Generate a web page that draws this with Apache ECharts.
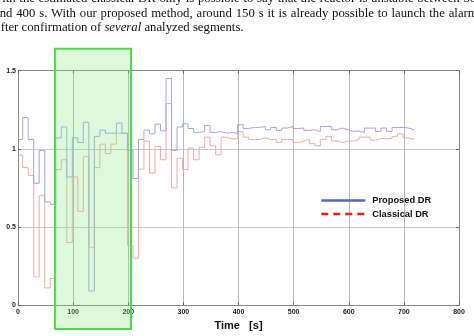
<!DOCTYPE html>
<html><head><meta charset="utf-8">
<script src="https://cdn.jsdelivr.net/npm/echarts@6/dist/echarts.min.js"></script>
<style>
html,body{margin:0;padding:0;background:#fff;overflow:hidden}
#wrap{position:relative;width:474px;height:336px;overflow:hidden}
#c{position:absolute;left:0;top:0;width:474px;height:336px}
.t{position:absolute;white-space:nowrap;font-family:'Liberation Serif','Times New Roman',serif;font-size:12.75px;color:#111;line-height:14px;z-index:5}
</style>
</head><body><div id="wrap"><div id="c"></div>
<div class="t" id="t1" style="left:-7px;top:-9px;word-spacing:0.5px"></div>
<div class="t" id="t2" style="left:-6px;top:6px;word-spacing:0.65px"></div>
<div class="t" id="t3" style="left:-5px;top:20px"></div>
</div>
<script>
// Segment start times [s] (last entry = end of final segment)
const segTimes = [2, 8.5, 18.5, 28.5, 38.5, 48.5, 58.5, 68.5, 78.5, 88.5, 98.5, 108.5, 118.5, 128.5, 138.5, 148.5,
  158.5, 168.5, 178.5, 188.5, 198.5, 208.5, 218.5, 228.5, 238.5, 248.5, 258.5, 268.5, 278.5, 288.5, 298.5,
  308.5, 318.5, 328.5, 338.5, 348.5, 358.5, 368.5, 378.5, 388.5, 398.5, 408.5, 418.5, 428.5, 438.5, 448.5,
  458.5, 468.5, 478.5, 488.5, 498.5, 508.5, 518.5, 528.5, 538.5, 548.5, 558.5, 568.5, 578.5, 588.5, 598.5,
  608.5, 618.5, 628.5, 638.5, 648.5, 658.5, 668.5, 678.5, 688.5, 698.5, 708.5, 719];

const proposedDR = [1.06, 1.20, 1.06, 0.78, 0.99, 0.66, 0.645, 1.07, 1.14, 0.82, 1.07, 1.04, 1.17, 0.09, 1.08, 1.12,
  1.10, 1.10, 1.165, 1.10, 0.99, 0.81, 1.06, 1.12, 1.096, 1.158, 1.115, 1.45, 0.99, 1.14, 1.16,
  1.13, 1.105, 1.11, 1.15, 1.105, 1.11, 1.10, 1.105, 1.10, 1.154, 1.13, 1.137, 1.137, 1.143, 1.122,
  1.137, 1.118, 1.133, 1.143, 1.13, 1.133, 1.118, 1.122, 1.111, 1.143, 1.143, 1.122, 1.133, 1.122, 1.111,
  1.115, 1.105, 1.133, 1.133, 1.111, 1.133, 1.111, 1.137, 1.137, 1.133, 1.122];

const classicalDR = [0.96, 0.88, 0.83, 0.18, 0.70, 0.11, 0.17, 0.867, 0.93, 0.40, 0.82, 0.60, 0.95, 0.37, 0.88, 1.03,
  0.97, 1.03, 1.10, 1.10, 0.38, 0.30, 0.87, 1.05, 0.845, 1.015, 0.93, 1.29, 0.75, 0.94, 0.867,
  1.005, 0.93, 1.01, 1.075, 1.02, 0.962, 1.075, 1.064, 1.064, 1.11, 1.075, 1.06, 1.06, 1.07, 1.06,
  1.06, 1.04, 1.06, 1.06, 1.04, 1.05, 1.06, 1.033, 1.02, 1.06, 1.08, 1.05, 1.04, 1.05, 1.05,
  1.06, 1.075, 1.075, 1.055, 1.065, 1.065, 1.067, 1.08, 1.096, 1.07, 1.06];

const xTicks = [0, 100, 200, 300, 400, 500, 600, 700, 800];
const yTicks = [0, 0.5, 1, 1.5];
const highlightRange = [67, 205];
const seriesNames = ['Proposed DR', 'Classical DR'];
const textLines = [
  'with the estimated classical DR only is possible to say that the reactor is unstable between 300',
  'and 400 s. With our proposed method, around 150 s it is already possible to launch the alarm',
  ['after confirmation of ', 'several', ' analyzed segments.']
];

document.getElementById('t1').textContent = textLines[0];
document.getElementById('t2').textContent = textLines[1];
(function () {
  const t3 = document.getElementById('t3');
  t3.appendChild(document.createTextNode(textLines[2][0]));
  const em = document.createElement('i'); em.textContent = textLines[2][1]; t3.appendChild(em);
  t3.appendChild(document.createTextNode(textLines[2][2]));
})();

function pairs(vals) {
  const out = vals.map((v, i) => [segTimes[i], v]);
  out.push([segTimes[segTimes.length - 1], vals[vals.length - 1]]);
  return out;
}

const chart = echarts.init(document.getElementById('c'), null, {renderer: 'canvas'});
const lblFont = {fontFamily: 'Liberation Sans, Arial, sans-serif', fontWeight: 'bold', fontSize: 7, color: '#222'};
const grid = {left: 18, right: 15, top: 70.7, bottom: 30.3};

const axisCommon = {
  type: 'value',
  axisLine: {show: true, onZero: false, lineStyle: {color: '#888', width: 1}},
  axisTick: {show: true, inside: true, length: 3, lineStyle: {color: '#666'}},
};

chart.setOption({
  animation: false,
  backgroundColor: '#fff',
  grid: grid,
  xAxis: [
    Object.assign({}, axisCommon, {
      min: xTicks[0], max: xTicks[xTicks.length - 1], interval: xTicks[1] - xTicks[0],
      name: 'Time   [s]', nameLocation: 'middle', nameGap: 13,
      nameTextStyle: {fontFamily: 'Liberation Sans, Arial, sans-serif', fontWeight: 'bold', fontSize: 11, color: '#111'},
      axisLabel: Object.assign({margin: 3}, lblFont),
      splitLine: {show: true, lineStyle: {color: '#b8b8b8', width: 1}}
    }),
    Object.assign({}, axisCommon, {
      position: 'top', min: xTicks[0], max: xTicks[xTicks.length - 1], interval: xTicks[1] - xTicks[0],
      axisLabel: {show: false}, splitLine: {show: false}
    })
  ],
  yAxis: [
    Object.assign({}, axisCommon, {
      min: yTicks[0], max: yTicks[yTicks.length - 1], interval: yTicks[1] - yTicks[0],
      axisLabel: Object.assign({margin: 2}, lblFont),
      splitLine: {show: true, lineStyle: {color: '#c8c8c8', width: 1}}
    }),
    Object.assign({}, axisCommon, {
      position: 'right', min: yTicks[0], max: yTicks[yTicks.length - 1], interval: yTicks[1] - yTicks[0],
      axisLabel: {show: false}, splitLine: {show: false}
    })
  ],
  legend: {
    orient: 'vertical', left: 315, top: 191, itemWidth: 44, itemHeight: 10, itemGap: 4.5,
    textStyle: {fontFamily: 'Liberation Sans, Arial, sans-serif', fontWeight: 'bold', fontSize: 9.3, color: '#111', padding: [0, 0, 0, 2]},
    data: [
      {name: seriesNames[0], itemStyle: {opacity: 0}, lineStyle: {color: '#4a6cc8', width: 2.5, type: 'solid', opacity: 1}},
      {name: seriesNames[1], itemStyle: {opacity: 0}, lineStyle: {color: '#ee1c1c', width: 2.5, type: [7, 5], opacity: 1}}
    ]
  },
  series: [
    {name: seriesNames[0], type: 'line', step: 'end', symbol: 'none', data: pairs(proposedDR),
      lineStyle: {color: '#a3a3ea', width: 1}, itemStyle: {color: '#a3a3ea'}, z: 3},
    {name: seriesNames[1], type: 'line', step: 'end', symbol: 'none', data: pairs(classicalDR),
      lineStyle: {color: '#f4aaaa', width: 1}, itemStyle: {color: '#f4aaaa'}, z: 2}
  ]
});

const gx0 = chart.convertToPixel({xAxisIndex: 0}, highlightRange[0]);
const gx1 = chart.convertToPixel({xAxisIndex: 0}, highlightRange[1]);
const topY = chart.convertToPixel({yAxisIndex: 0}, yTicks[yTicks.length - 1]);
const botY = chart.convertToPixel({yAxisIndex: 0}, yTicks[0]);
chart.setOption({
  graphic: [
    {type: 'rect', z: 100, shape: {x: gx0, y: topY - 22, width: gx1 - gx0, height: (botY + 24) - (topY - 22)},
      style: {fill: 'rgba(130,235,130,0.28)', stroke: '#4cdb4c', lineWidth: 2}}
  ]
});
</script></body></html>
